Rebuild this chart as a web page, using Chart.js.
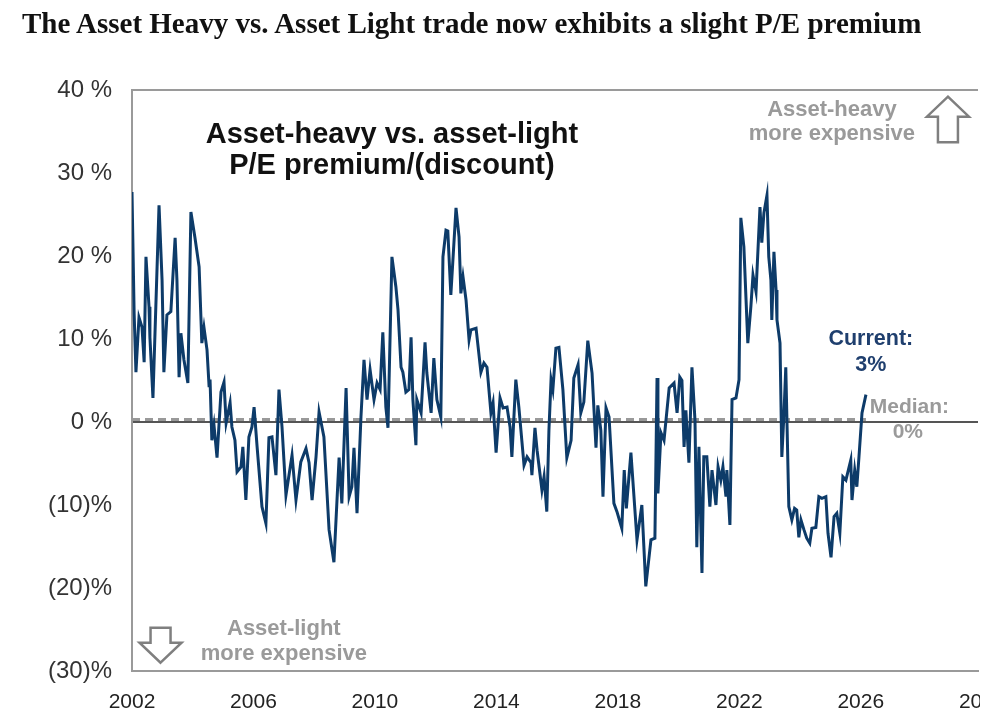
<!DOCTYPE html>
<html>
<head>
<meta charset="utf-8">
<script src="https://cdn.jsdelivr.net/npm/chart.js@4.4.1/dist/chart.umd.min.js"></script>
<style>
  html, body { margin: 0; padding: 0; background: #fff; overflow: hidden; }
  #wrap { position: relative; width: 1004px; height: 720px; }
  #box { position: absolute; left: 0; top: 0; width: 980px; height: 720px; }
  #title { position: absolute; left: 22px; top: 7px; font: bold 29px "Liberation Serif", serif; color: #111; white-space: nowrap; }
</style>
</head>
<body>
<div id="wrap">
  <div id="box"><canvas id="chart"></canvas></div>
  <div id="title">The Asset Heavy vs. Asset Light trade now exhibits a slight P/E premium</div>
</div>
<script>
// P/E premium of asset-heavy vs asset-light (decimal year, %)
const years = [
  2002.00, 2002.07, 2002.13, 2002.23, 2002.33, 2002.40, 2002.46, 2002.56, 2002.59, 2002.69,
  2002.89, 2002.99, 2003.05, 2003.15, 2003.28, 2003.42, 2003.48, 2003.55, 2003.61, 2003.71,
  2003.84, 2003.94, 2004.07, 2004.21, 2004.30, 2004.37, 2004.47, 2004.54, 2004.57, 2004.63,
  2004.70, 2004.80, 2004.93, 2005.03, 2005.10, 2005.23, 2005.29, 2005.39, 2005.46, 2005.59,
  2005.65, 2005.75, 2005.85, 2005.95, 2006.02, 2006.12, 2006.28, 2006.41, 2006.51, 2006.61,
  2006.74, 2006.84, 2006.94, 2007.07, 2007.27, 2007.40, 2007.56, 2007.73, 2007.83, 2007.93,
  2008.06, 2008.16, 2008.32, 2008.49, 2008.65, 2008.82, 2008.91, 2009.05, 2009.15, 2009.24,
  2009.31, 2009.41, 2009.54, 2009.64, 2009.74, 2009.84, 2009.97, 2010.07, 2010.17, 2010.26,
  2010.36, 2010.43, 2010.56, 2010.69, 2010.76, 2010.86, 2010.92, 2011.02, 2011.12, 2011.19,
  2011.25, 2011.35, 2011.38, 2011.52, 2011.65, 2011.71, 2011.85, 2011.94, 2012.04, 2012.17,
  2012.24, 2012.34, 2012.40, 2012.50, 2012.67, 2012.77, 2012.83, 2012.90, 2013.00, 2013.10,
  2013.16, 2013.33, 2013.49, 2013.59, 2013.69, 2013.82, 2013.89, 2013.99, 2014.12, 2014.22,
  2014.35, 2014.45, 2014.51, 2014.64, 2014.74, 2014.91, 2015.01, 2015.14, 2015.17, 2015.27,
  2015.34, 2015.50, 2015.57, 2015.66, 2015.73, 2015.80, 2015.86, 2015.96, 2016.06, 2016.19,
  2016.32, 2016.46, 2016.55, 2016.69, 2016.78, 2016.88, 2017.01, 2017.15, 2017.28, 2017.34,
  2017.44, 2017.51, 2017.61, 2017.71, 2017.87, 2017.97, 2018.13, 2018.21, 2018.28, 2018.43,
  2018.63, 2018.79, 2018.92, 2019.09, 2019.22, 2019.29, 2019.32, 2019.42, 2019.52, 2019.69,
  2019.85, 2019.95, 2020.04, 2020.11, 2020.18, 2020.24, 2020.34, 2020.44, 2020.54, 2020.60,
  2020.67, 2020.77, 2020.83, 2020.93, 2021.03, 2021.10, 2021.23, 2021.30, 2021.39, 2021.46,
  2021.56, 2021.59, 2021.69, 2021.76, 2021.89, 2021.99, 2022.05, 2022.15, 2022.28, 2022.38,
  2022.45, 2022.55, 2022.68, 2022.74, 2022.81, 2022.91, 2022.97, 2023.04, 2023.07, 2023.14,
  2023.21, 2023.24, 2023.34, 2023.40, 2023.47, 2023.53, 2023.63, 2023.73, 2023.82, 2023.89,
  2023.96, 2024.03, 2024.13, 2024.22, 2024.32, 2024.39, 2024.52, 2024.62, 2024.72, 2024.85,
  2024.92, 2025.02, 2025.12, 2025.21, 2025.31, 2025.41, 2025.51, 2025.57, 2025.67, 2025.71,
  2025.80, 2025.87, 2025.94, 2026.04, 2026.17
];
const premium = [
  27.7, 13.1, 6.0, 12.6, 11.4, 7.2, 19.9, 13.9, 10.2, 2.9,
  26.1, 17.1, 6.0, 12.9, 13.3, 22.2, 17.1, 5.4, 10.7, 7.5,
  4.7, 25.3, 22.3, 18.7, 9.5, 11.4, 8.7, 4.2, 5.1, -2.2,
  -0.4, -4.3, 3.6, 4.8, -0.1, 2.3, -0.6, -2.2, -6.0, -5.4,
  -3.0, -9.4, -1.8, -0.6, 1.8, -3.0, -10.2, -12.2, -1.9, -1.8,
  -6.4, 3.9, -0.6, -8.8, -4.0, -9.4, -4.8, -3.2, -4.9, -9.4,
  -4.2, 1.2, -1.8, -13.0, -16.9, -4.3, -9.8, 4.1, -9.0, -7.8,
  -3.1, -11.0, 0.6, 7.5, 2.7, 6.3, 2.7, 4.7, 3.9, 10.8,
  1.8, -0.7, 19.9, 16.3, 13.5, 6.6, 6.0, 3.6, 3.9, 10.2,
  2.7, -2.8, 2.7, 1.1, 9.6, 5.9, 1.1, 7.7, 2.7, 0.6,
  19.9, 23.1, 23.0, 15.3, 25.8, 22.3, 15.5, 17.5, 14.7, 9.9,
  11.1, 11.3, 6.0, 7.1, 6.6, 1.1, 2.3, -3.7, 2.9, 1.7,
  1.8, -0.6, -4.2, 5.1, 1.8, -5.2, -4.2, -4.9, -6.4, -0.7,
  -3.4, -8.2, -6.6, -10.8, -1.0, 5.1, 3.9, 8.9, 9.0, 3.9,
  -4.3, -2.2, 5.3, 6.9, 1.1, 2.4, 9.8, 5.9, -3.1, 2.0,
  -1.0, -9.0, 1.7, 0.6, -9.8, -10.8, -12.8, -5.8, -10.4, -3.7,
  -14.2, -10.0, -19.8, -14.2, -14.0, 5.3, -8.6, -1.3, -2.2, 4.1,
  4.7, 1.1, 5.4, 5.0, -3.0, 1.4, -4.9, 6.6, 0.2, -15.1,
  -3.0, -18.2, -4.2, -4.2, -10.2, -5.8, -10.0, -5.4, -7.0, -5.4,
  -9.0, -5.8, -12.4, 2.7, 2.9, 5.1, 24.6, 21.1, 9.5, 13.9,
  17.7, 15.7, 25.9, 21.6, 25.2, 27.3, 19.9, 17.1, 12.3, 20.5,
  15.9, 12.3, 9.5, -4.2, 1.0, 6.6, -10.2, -11.8, -10.4, -10.6,
  -13.9, -11.8, -13.0, -14.0, -14.6, -12.8, -12.7, -9.0, -9.2, -9.0,
  -13.4, -16.3, -11.4, -11.0, -13.4, -6.6, -7.0, -6.1, -4.6, -9.4,
  -5.8, -7.8, -4.2, 1.1, 3.3
];
const medianValue = 0.3;
const currentValue = 3;

const xTicks = [2002, 2006, 2010, 2014, 2018, 2022, 2026, 2030];
const yTicks = [-30, -20, -10, 0, 10, 20, 30, 40];
const yTickLabels = ['(30)%', '(20)%', '(10)%', '0 %', '10 %', '20 %', '30 %', '40 %'];

const SANS = '"Liberation Sans", Arial, sans-serif';
const NAVY = '#0d3b69';
const GREY = '#9a9a9a';

function blockArrow(ctx, cx, top, bottom, up) {
  const hw = 21, sw = 10, hh = 20;
  ctx.beginPath();
  if (up) {
    ctx.moveTo(cx, top);
    ctx.lineTo(cx + hw, top + hh); ctx.lineTo(cx + sw, top + hh);
    ctx.lineTo(cx + sw, bottom); ctx.lineTo(cx - sw, bottom);
    ctx.lineTo(cx - sw, top + hh); ctx.lineTo(cx - hw, top + hh);
  } else {
    ctx.moveTo(cx, bottom);
    ctx.lineTo(cx + hw, bottom - hh); ctx.lineTo(cx + sw, bottom - hh);
    ctx.lineTo(cx + sw, top); ctx.lineTo(cx - sw, top);
    ctx.lineTo(cx - sw, bottom - hh); ctx.lineTo(cx - hw, bottom - hh);
  }
  ctx.closePath();
  ctx.stroke();
}

const notes = {
  id: 'notes',
  afterDatasetsDraw(chart) {
    const { ctx, chartArea: a, scales: { x, y } } = chart;
    const px = v => x.getPixelForValue(v), py = v => y.getPixelForValue(v);
    ctx.save();
    // top frame line
    ctx.strokeStyle = GREY; ctx.lineWidth = 2;
    ctx.beginPath(); ctx.moveTo(a.left, a.top); ctx.lineTo(a.right, a.top); ctx.stroke();

    ctx.textAlign = 'center'; ctx.textBaseline = 'middle';
    const txt = (s, xv, yv, font, color) => {
      ctx.font = font; ctx.fillStyle = color;
      ctx.fillText(s, px(xv), py(yv));
    };
    txt('Asset-heavy vs. asset-light', 2010.56, 34.6, 'bold 29px ' + SANS, '#111');
    txt('P/E premium/(discount)', 2010.56, 30.9, 'bold 29px ' + SANS, '#111');

    txt('Asset-heavy', 2025.05, 37.6, 'bold 22px ' + SANS, GREY);
    txt('more expensive', 2025.05, 34.7, 'bold 22px ' + SANS, GREY);
    txt('Asset-light', 2007.0, -24.9, 'bold 22px ' + SANS, GREY);
    txt('more expensive', 2007.0, -28.0, 'bold 22px ' + SANS, GREY);

    txt('Current:', 2026.33, 10.0, 'bold 21.5px ' + SANS, '#1f3f6e');
    txt(currentValue + '%', 2026.33, 6.9, 'bold 21.5px ' + SANS, '#1f3f6e');
    txt('Median:', 2027.6, 1.8, 'bold 21px ' + SANS, GREY);
    txt(Math.round(medianValue) + '%', 2027.55, -1.2, 'bold 21px ' + SANS, GREY);

    ctx.strokeStyle = '#7f7f7f'; ctx.lineWidth = 2.5;
    blockArrow(ctx, px(2028.87), py(39.2), py(33.7), true);
    blockArrow(ctx, px(2002.94), py(-24.8), py(-29.0), false);
    ctx.restore();
  }
};

new Chart(document.getElementById('chart'), {
  type: 'line',
  data: {
    datasets: [{
      data: years.map((yr, i) => ({ x: yr, y: premium[i] })),
      borderColor: NAVY,
      borderWidth: 3,
      pointRadius: 0,
      tension: 0,
    }, {
      data: [{ x: years[0], y: medianValue }, { x: years[years.length - 1], y: medianValue }],
      borderColor: '#999',
      borderWidth: 3,
      borderDash: [8, 5],
      pointRadius: 0,
    }],
  },
  options: {
    responsive: true,
    maintainAspectRatio: false,
    animation: false,
    layout: { padding: { top: 90, right: 2, left: 0, bottom: 0 } },
    plugins: { legend: { display: false }, tooltip: { enabled: false } },
    scales: {
      x: {
        type: 'linear',
        min: 2002,
        max: 2029.86,
        afterBuildTicks: s => { s.ticks = xTicks.map(v => ({ value: v })); },
        afterFit: s => { s.height = 49; s.paddingLeft = 0; s.paddingRight = 0; },
        ticks: {
          color: '#222', padding: 11, maxRotation: 0, autoSkip: false,
          font: { family: SANS, size: 21 },
          callback: v => String(v),
        },
        grid: { display: false },
        border: { display: true, color: GREY, width: 2 },
      },
      y: {
        min: -30,
        max: 40,
        afterBuildTicks: s => { s.ticks = yTicks.map(v => ({ value: v })); },
        afterFit: s => { s.width = 132; s.paddingTop = 0; s.paddingBottom = 0; },
        ticks: {
          color: '#333', padding: 20,
          font: { family: SANS, size: 24 },
          callback: v => yTickLabels[yTicks.indexOf(v)],
        },
        grid: {
          drawTicks: false,
          lineWidth: 2,
          color: c => (c.tick && c.tick.value === 0 ? '#555' : 'rgba(0,0,0,0)'),
        },
        border: { display: true, color: GREY, width: 2 },
      },
    },
  },
  plugins: [notes],
});
</script>
</body>
</html>
